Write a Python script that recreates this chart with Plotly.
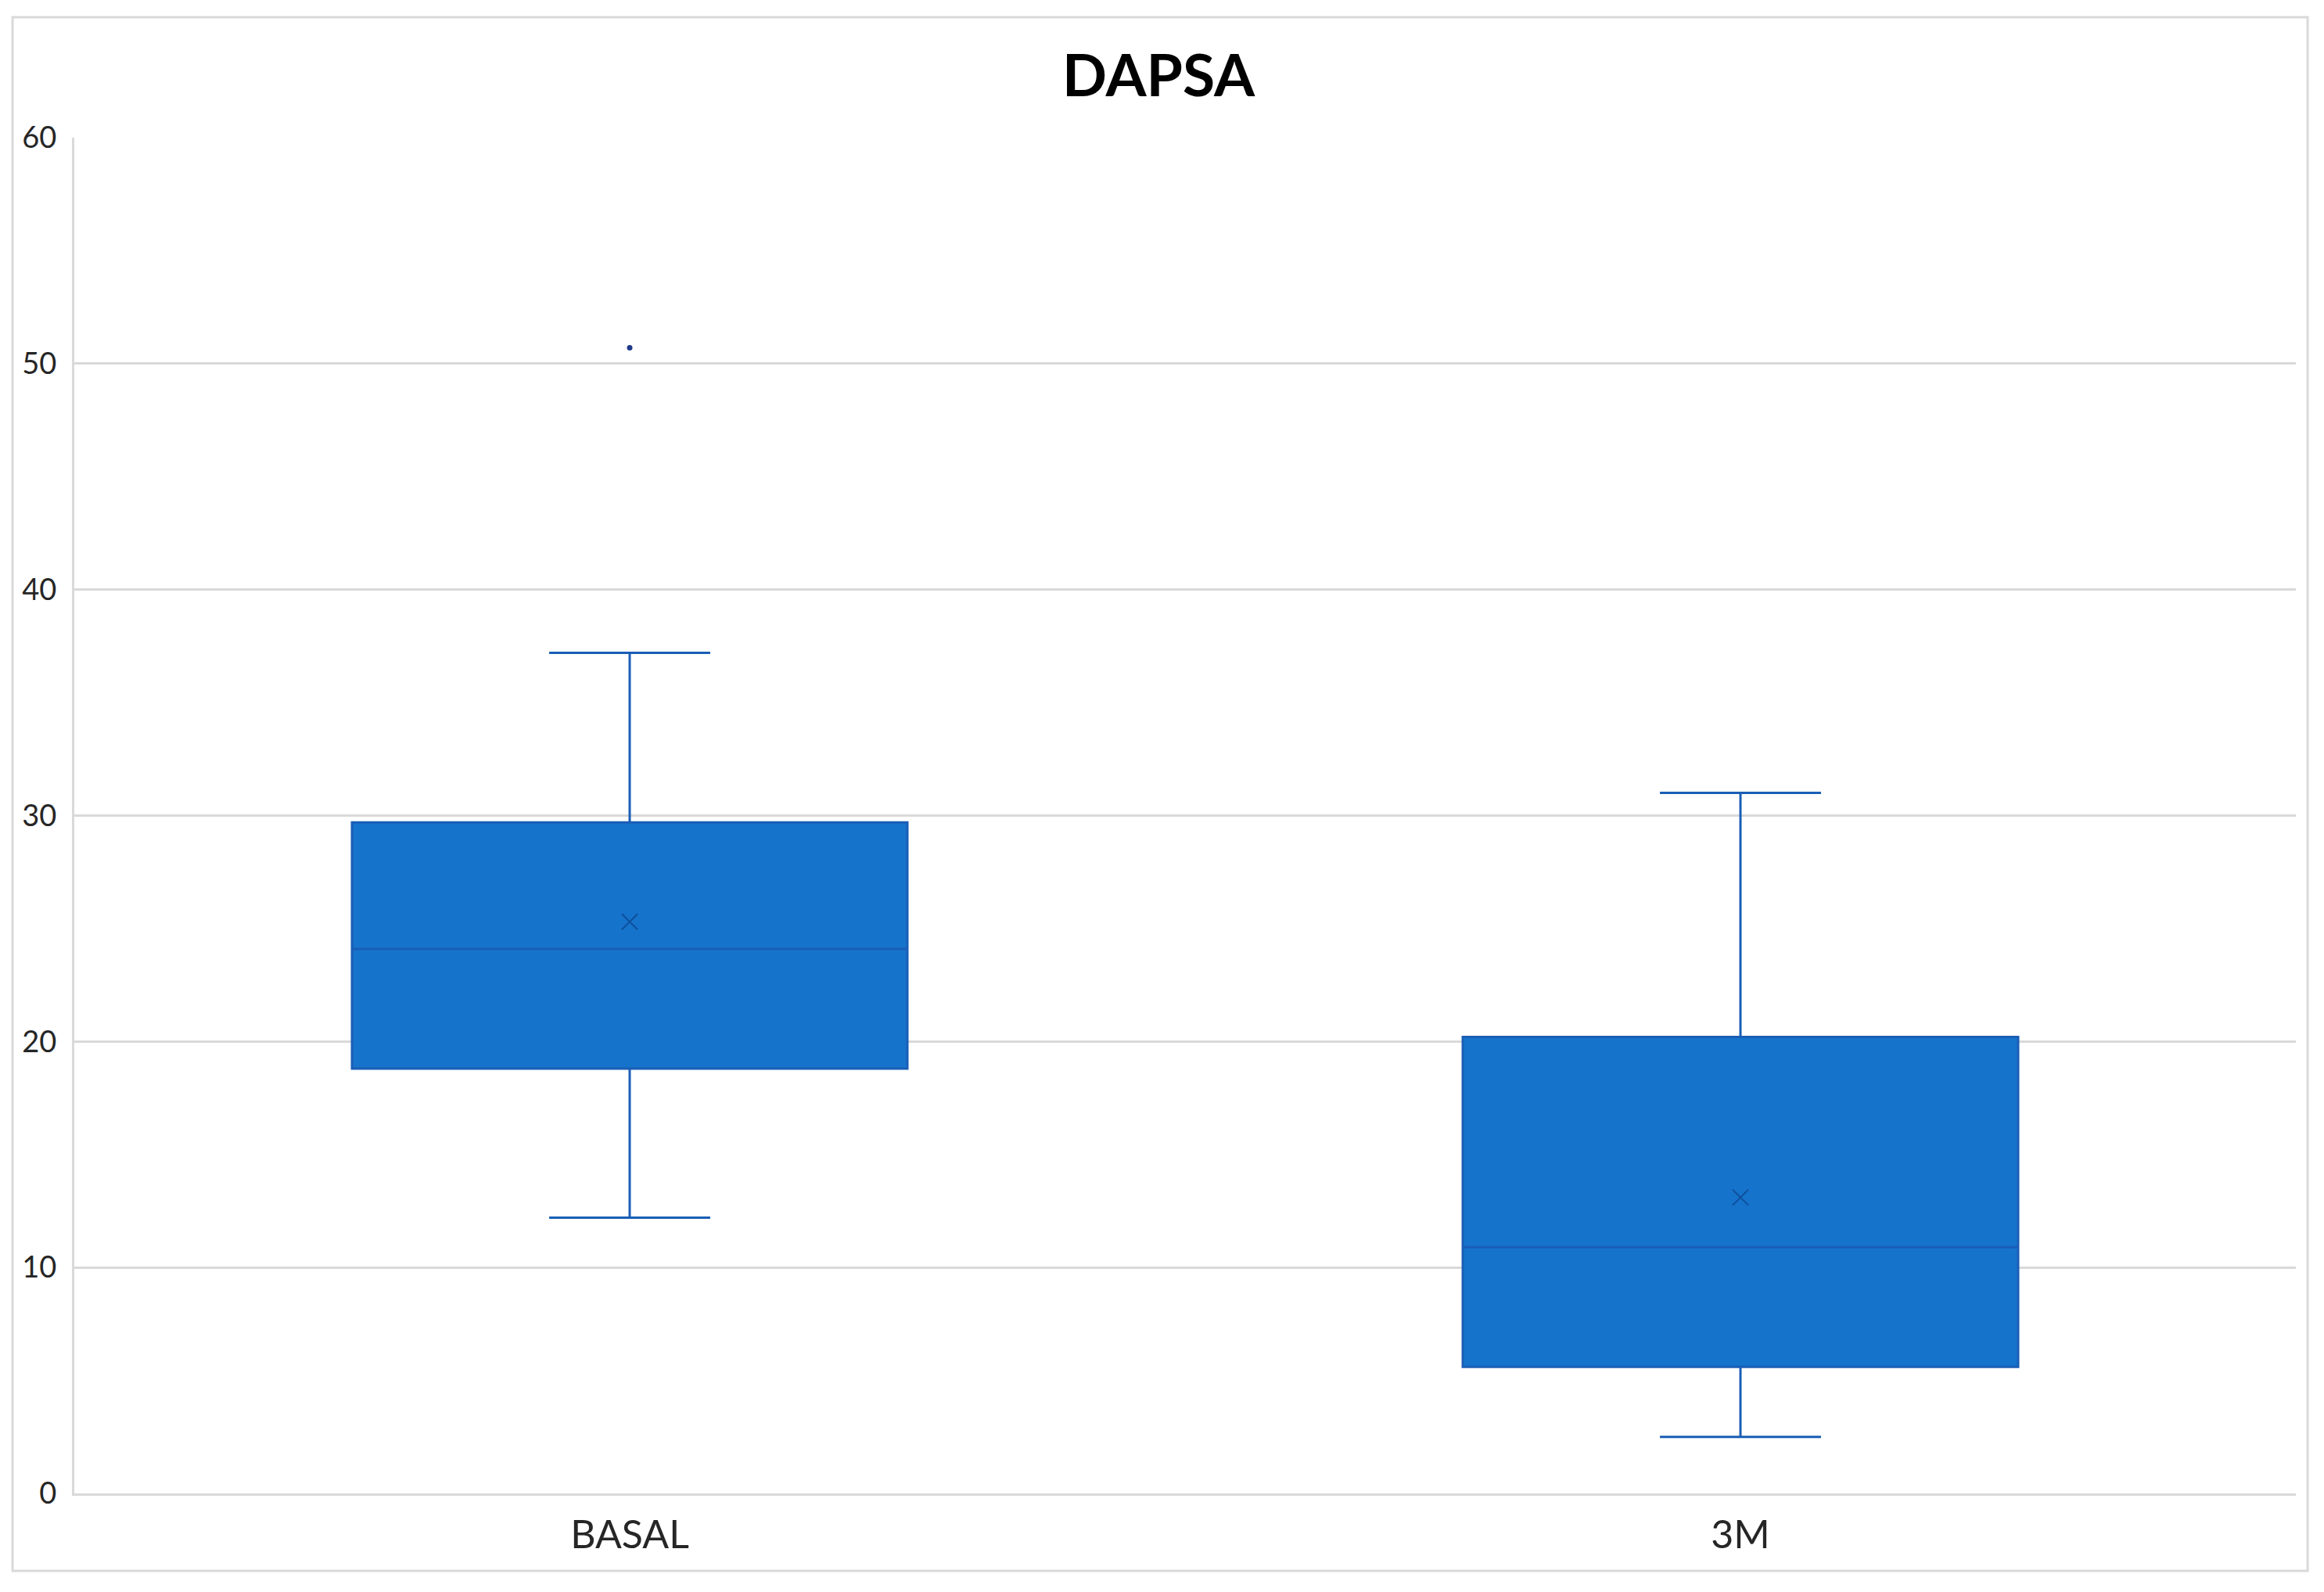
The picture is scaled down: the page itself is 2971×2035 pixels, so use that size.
import plotly.graph_objects as go

# box statistics
categories = ["BASAL", "3M"]
q1_vals = [18.8, 5.6]
median_vals = [24.1, 10.9]
q3_vals = [29.7, 20.2]
lower_whisker = [12.2, 2.5]
upper_whisker = [37.2, 31.0]
mean_vals = [25.3, 13.1]
outlier_cats = ["BASAL"]
outlier_vals = [50.7]
y_ticks = [0, 10, 20, 30, 40, 50, 60]

fig = go.Figure()

fig.add_trace(go.Box(
    x=categories,
    q1=q1_vals,
    median=median_vals,
    q3=q3_vals,
    lowerfence=lower_whisker,
    upperfence=upper_whisker,
    boxpoints=False,
    whiskerwidth=0.29,
    fillcolor="#1673CB",
    line=dict(color="#1A5EB6", width=3),
    showlegend=False,
))

# Excel style mean marker
fig.add_trace(go.Scatter(
    x=categories,
    y=mean_vals,
    mode="markers",
    marker=dict(symbol="x-thin", size=20, line=dict(color="#0E4F9C", width=2)),
    showlegend=False,
))

fig.add_trace(go.Scatter(
    x=outlier_cats,
    y=outlier_vals,
    mode="markers",
    marker=dict(symbol="circle", size=7, color="#1F3A8A"),
    showlegend=False,
))

# page body has an 8px margin, so the figure is a bit smaller than the window
fig.update_layout(
    width=2955,
    height=2019,
    margin=dict(l=87, r=28, t=168, b=118),
    paper_bgcolor="white",
    plot_bgcolor="white",
    boxgap=0.5,
    boxgroupgap=0,
    font=dict(family="Lato", color="#404040"),
    title=dict(
        text="<b>DAPSA</b>",
        x=0.4985, xanchor="center",
        y=0.956, yanchor="middle",
        font=dict(family="Lato", size=75, color="black"),
    ),
    xaxis=dict(
        showgrid=False,
        showline=True,
        linecolor="#D9D9D9",
        linewidth=3,
        tickfont=dict(size=50, color="#262626"),
        ticklabelstandoff=7,
        fixedrange=True,
    ),
    yaxis=dict(
        range=[0, 60],
        tickvals=y_ticks,
        showgrid=True,
        gridcolor="#D9D9D9",
        gridwidth=3,
        zeroline=False,
        showline=True,
        linecolor="#D9D9D9",
        linewidth=3,
        tickfont=dict(size=38, color="#262626"),
        ticklabelstandoff=12,
        fixedrange=True,
    ),
    shapes=[dict(
        type="rect", xref="paper", yref="paper",
        x0=-0.0278, x1=1.0053, y0=-0.0571, y1=1.0889,
        line=dict(color="#D9D9D9", width=3),
        fillcolor="rgba(0,0,0,0)",
        layer="below",
    )],
)

fig.write_html("out.html")
